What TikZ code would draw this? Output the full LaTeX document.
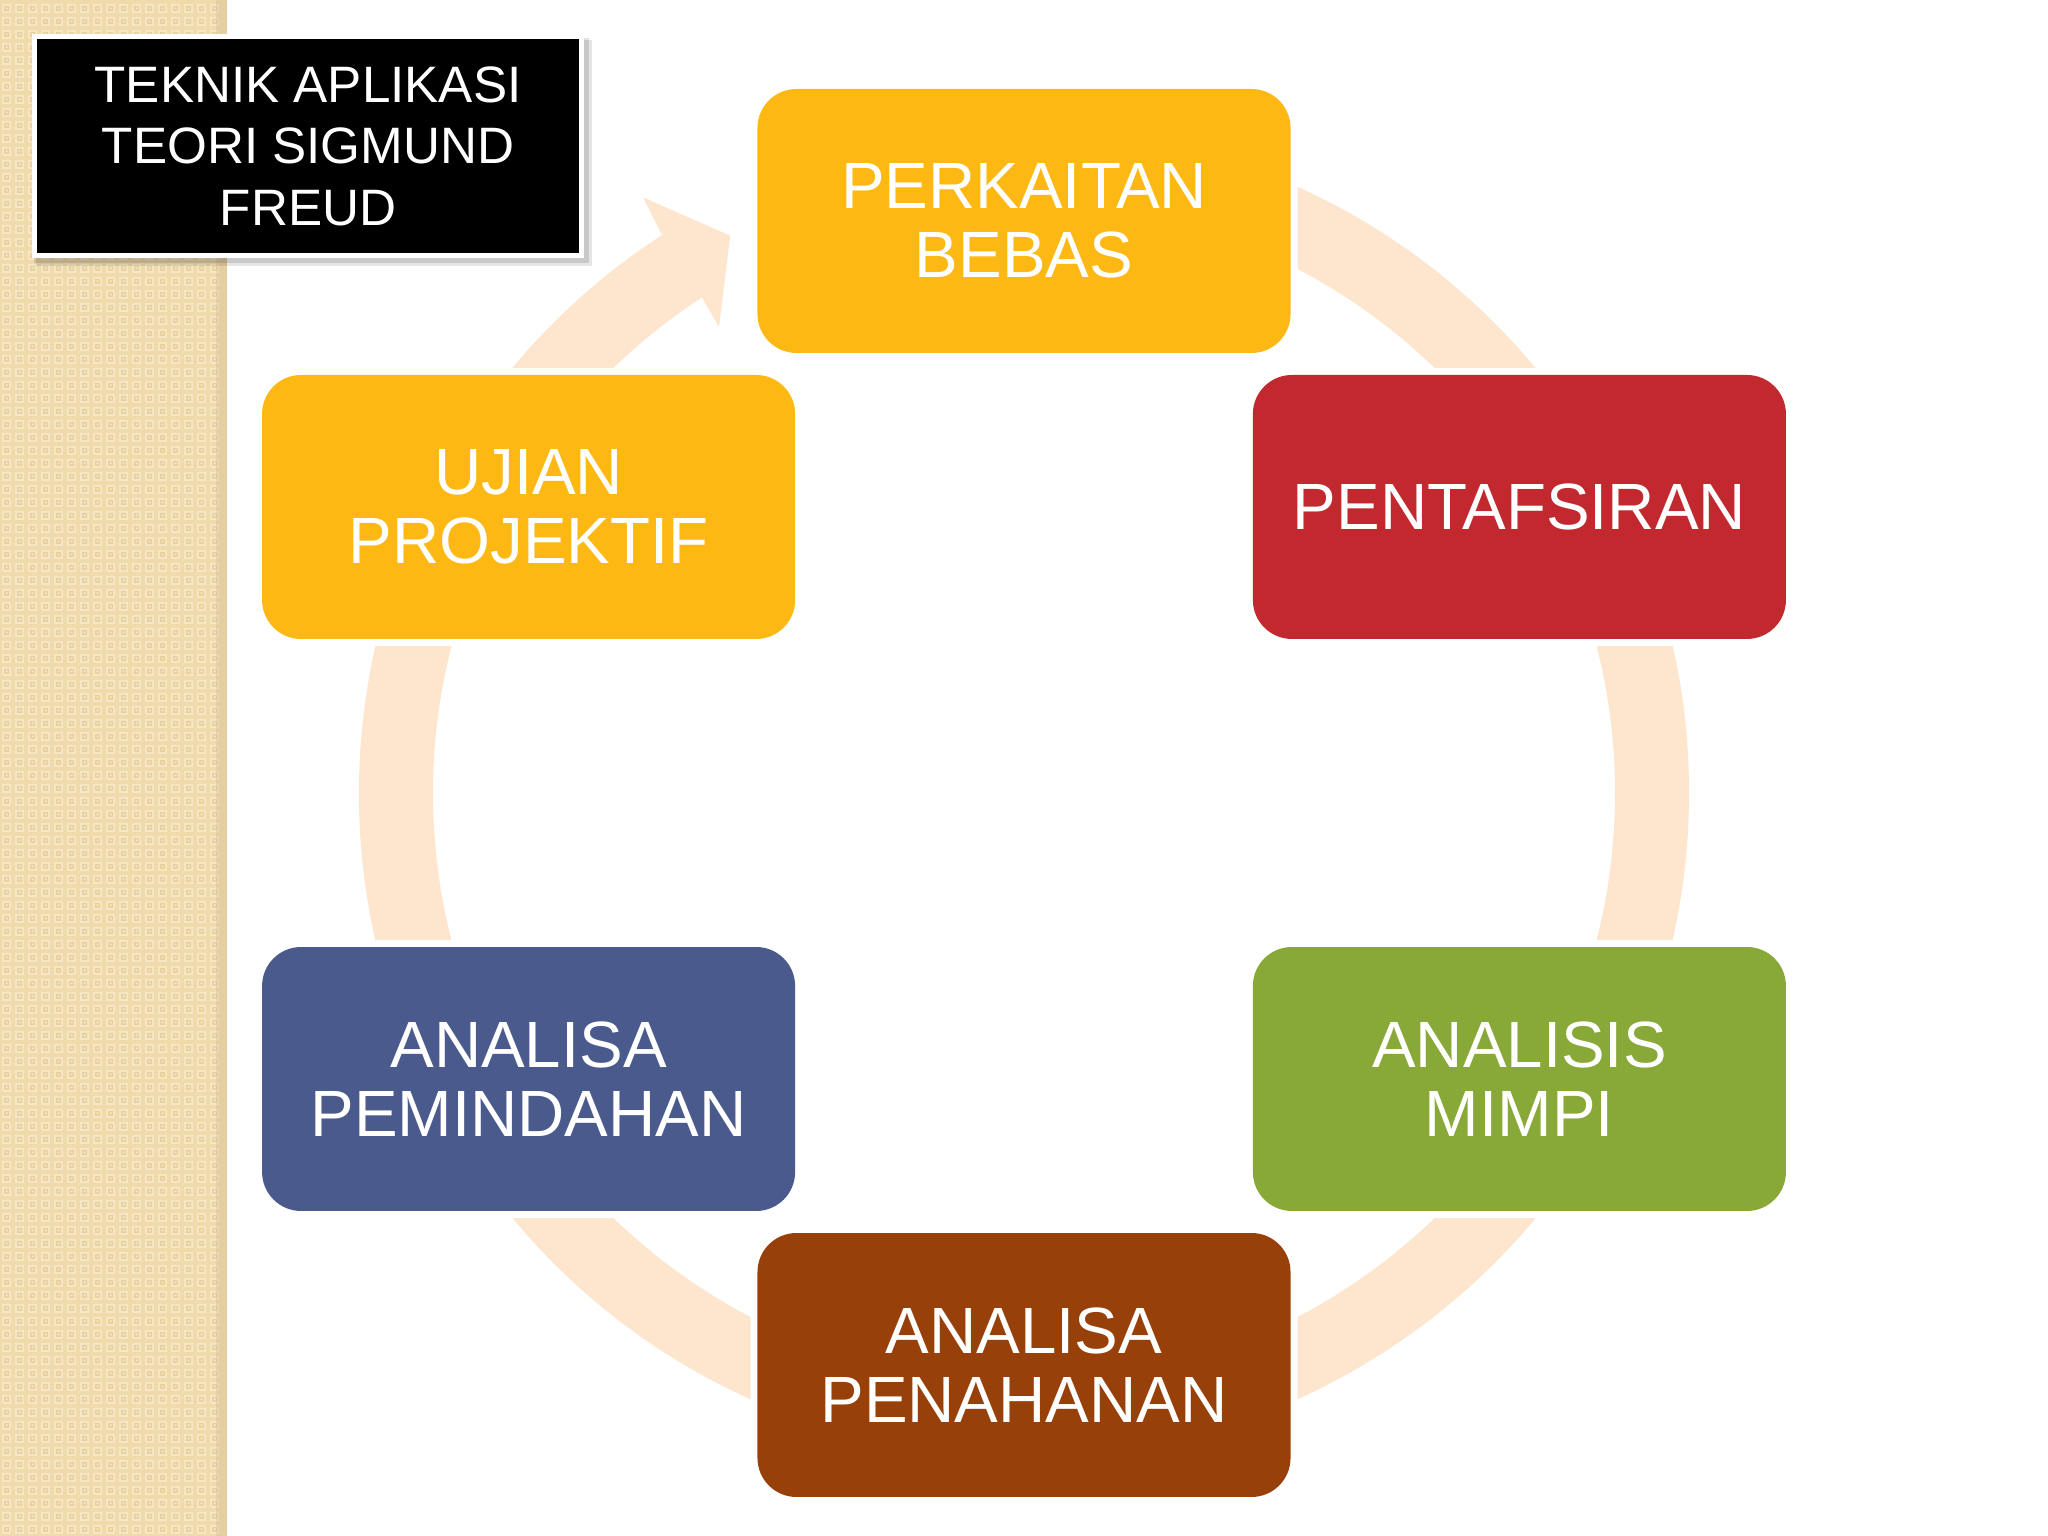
\documentclass[tikz,border=0pt]{standalone}
\usepackage{fontspec}
\setmainfont{Liberation Sans}
\usetikzlibrary{calc}
\definecolor{ringc}{HTML}{FDE5CE}
\definecolor{goldc}{HTML}{FDB813}
\definecolor{redc}{HTML}{C1292F}
\definecolor{greenc}{HTML}{88A838}
\definecolor{brownc}{HTML}{98400A}
\definecolor{bluec}{HTML}{4A5A8D}
\definecolor{stripec}{HTML}{EFDAAC}
\definecolor{stripelt}{HTML}{F6E6C3}
\definecolor{stripedk}{HTML}{E6D09F}
\begin{document}
\begin{tikzpicture}[x=0.3515625pt, y=0.3515625pt,
  stage/.style={rounded corners=13.7pt, minimum width=187.4pt, minimum height=92.8pt,
    inner sep=0pt, align=center, text=white, font=\fontsize{23}{24.3}\selectfont,
    preaction={draw=white, line width=4.9pt}},
  titlebox/.style={draw=white, line width=1.76pt, fill=black, minimum width=192.3pt,
    minimum height=77pt, inner sep=0pt, align=center, text=white,
    font=\fontsize{18}{21.6}\selectfont}]
\useasboundingbox (0,0) rectangle (2048,1536);
\fill[white] (0,0) rectangle (2048,1536);
% textured side stripe
\fill[stripec] (0,0) rectangle (227,1536);
\fill[stripelt] \foreach \i in {0,...,16} {\foreach \j in {0,...,118} {(\i*13+2,\j*13+2) rectangle ++(9,9)}};
\fill[stripedk] \foreach \i in {0,...,16} {\foreach \j in {0,...,118} {(\i*13+4,\j*13+4) rectangle ++(5,5)}};
\fill[stripelt] \foreach \i in {0,...,16} {\foreach \j in {0,...,118} {(\i*13+5.5,\j*13+5.5) rectangle ++(2,2)}};
\fill[stripedk!90!black, opacity=0.35] (216,0) rectangle (227,1536);
% cycle ring with arrow
\begin{scope}[shift={(1024,743)}]
  \fill[ringc] (123:665) arc[start angle=123, end angle=450, radius=665]
    -- (450:591) arc[start angle=450, end angle=123, radius=591] -- cycle;
  \fill[ringc] (123:662) -- (122.6:707) -- (117.8:630) -- (123.2:557) -- (123:594) -- cycle;
\end{scope}
% stages
\node[stage, fill=goldc] (perkaitan) at (1024,1315) {PERKAITAN\\BEBAS};
\node[stage, fill=redc] (pentafsiran) at (1519.4,1029) {PENTAFSIRAN};
\node[stage, fill=greenc] (mimpi) at (1519.4,457) {ANALISIS\\MIMPI};
\node[stage, fill=brownc] (penahanan) at (1024,171) {ANALISA\\PENAHANAN};
\node[stage, fill=bluec] (pemindahan) at (528.6,457) {ANALISA\\PEMINDAHAN};
\node[stage, fill=goldc] (ujian) at (528.6,1029) {UJIAN\\PROJEKTIF};
% title
\coordinate (tc) at (308,1390);
\fill[black, opacity=0.10] ($(tc)+(-272,-120)$) rectangle ($(tc)+(284,106)$);
\fill[black, opacity=0.12] ($(tc)+(-274,-117)$) rectangle ($(tc)+(281,108)$);
\node[titlebox] (title) at (tc) {TEKNIK APLIKASI\\TEORI SIGMUND\\FREUD};
\end{tikzpicture}
\end{document}
